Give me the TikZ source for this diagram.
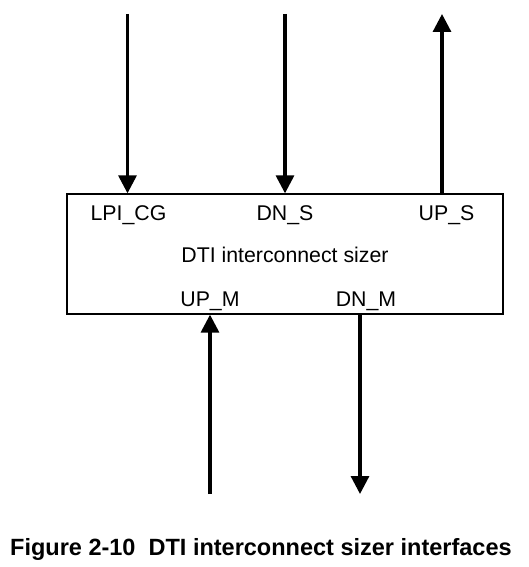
\documentclass[tikz,border=0pt]{standalone}
\usepackage{fontspec}
\setmainfont{Liberation Sans}
\usetikzlibrary{arrows.meta}
\usetikzlibrary{positioning}

\begin{document}
\begin{tikzpicture}[x=1pt,y=-1pt,
    port/.style={anchor=base, font=\fontsize{21.3}{25}\selectfont, inner sep=0pt},
    sig/.style={line width=3.2pt, -{Triangle[width=18pt,length=18pt]}}]
    \useasboundingbox (0,0) rectangle (529,567);
    % Draw the sizer block
    \node[draw, line width=1.3pt, minimum width=436pt, minimum height=120pt,
          inner sep=0pt] (sizer) at (285,254) {};
    \node[port] (name) at (285,262) {DTI interconnect sizer};
    % Port labels
    \node[port] (lpicg) at (128.5,220) {LPI\_CG};
    \node[port] (dns)   at (285,220)   {DN\_S};
    \node[port] (ups)   at (446.5,220) {UP\_S};
    \node[port] (upm)   at (210,306)   {UP\_M};
    \node[port] (dnm)   at (366,306)   {DN\_M};
    % Free ends of the connectors
    \coordinate (lpicg-in) at (127.5,14);
    \coordinate (dns-in)   at (285,14);
    \coordinate (ups-out)  at (442,14);
    \coordinate (upm-in)   at (210,494);
    \coordinate (dnm-out)  at (360,494);
    % Connectors
    \draw[sig] (lpicg-in) -- (lpicg-in |- sizer.north);
    \draw[sig] (dns-in) -- (dns-in |- sizer.north);
    \draw[sig] (ups-out |- sizer.north) -- (ups-out);
    \draw[sig] (upm-in) -- (upm-in |- sizer.south);
    \draw[sig] (dnm-out |- sizer.south) -- (dnm-out);
    % Caption
    \node[anchor=base west, inner sep=0pt, font=\fontsize{23.5}{28}\selectfont\bfseries]
        (caption) at (10,555) {Figure 2-10\ \ DTI interconnect sizer interfaces};
\end{tikzpicture}
\end{document}
